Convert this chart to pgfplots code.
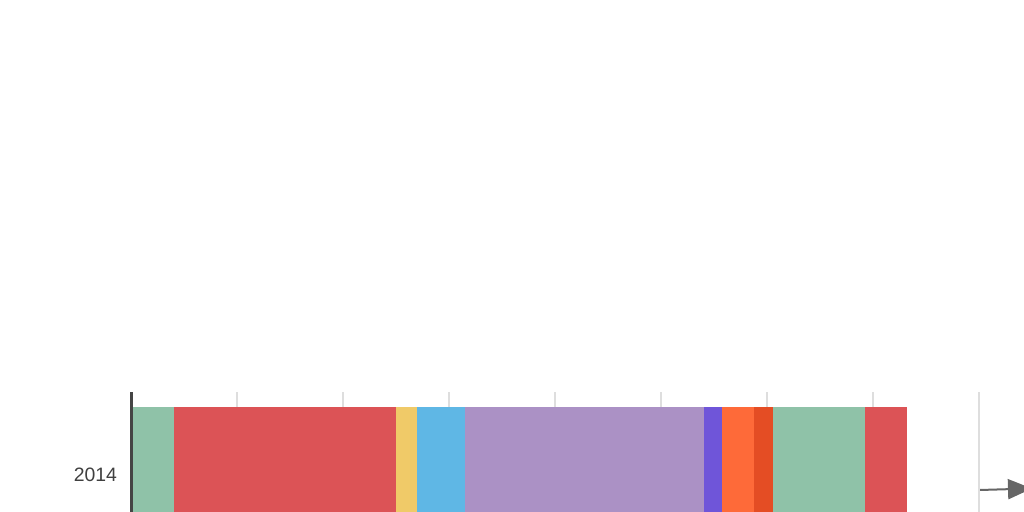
\documentclass[border=0pt]{standalone}
\usepackage{pgfplots}
\pgfplotsset{compat=1.18}
\usepackage{fontspec}
\setmainfont{Liberation Sans}
\usetikzlibrary{arrows.meta}

\definecolor{cgreen}{HTML}{8FC2A8}
\definecolor{cred}{HTML}{DC5356}
\definecolor{cyellow}{HTML}{F0CA68}
\definecolor{cblue}{HTML}{5FB7E5}
\definecolor{cpurple}{HTML}{AB91C5}
\definecolor{cviolet}{HTML}{6F55D9}
\definecolor{corange}{HTML}{FE6A39}
\definecolor{cdorange}{HTML}{E44D24}

\begin{document}
\begin{tikzpicture}
	\begin{scope}
	\clip (0,0) rectangle (512pt,256pt);
	\begin{axis}[
		name=ax,
		% place the plot area as in the 1024x512 frame (1px = 0.5pt)
		at={(65.5pt,60pt)}, anchor=north west,
		scale only axis,
		width=477pt, height=83pt,
		xbar stacked,
		bar width=1.36,
		xmin=0, xmax=90,
		ymin=-0.83, ymax=0.83,
		axis lines*=left,
		axis line style={draw=none},
		xtick={0,10,...,90},
		xticklabels={},
		xmajorgrids,
		grid style={draw=black!13, line width=0.75pt},
		ytick={0},
		yticklabels={2014},
		major tick length=0pt,
		yticklabel style={font=\fontsize{9.7}{11}\selectfont, text=black!75, xshift=-3.5pt},
		clip=false,
		]
		\addplot[fill=cgreen, draw=none] coordinates {(4.06,0)};
		\addplot[fill=cred, draw=none] coordinates {(20.94,0)};
		\addplot[fill=cyellow, draw=none] coordinates {(2.0,0)};
		\addplot[fill=cblue, draw=none] coordinates {(4.5,0)};
		\addplot[fill=cpurple, draw=none] coordinates {(22.6,0)};
		\addplot[fill=cviolet, draw=none] coordinates {(1.7,0)};
		\addplot[fill=corange, draw=none] coordinates {(3.0,0)};
		\addplot[fill=cdorange, draw=none] coordinates {(1.8,0)};
		\addplot[fill=cgreen, draw=none] coordinates {(8.6,0)};
		\addplot[fill=cred, draw=none] coordinates {(4.0,0)};

		% annotation arrow, cut at the right edge
		\draw[black!60, line width=1pt, -{Triangle[length=12pt, width=10pt]}]
			(axis cs:80.1,-0.15) -- (axis cs:85.0,-0.135);
	\end{axis}
	% left axis line on top of the bars
	\draw[black!73, line width=1.5pt] (ax.south west) -- (ax.north west);
	\end{scope}
	\pgfresetboundingbox
	\useasboundingbox (0,0) rectangle (512pt,256pt);
\end{tikzpicture}
\end{document}
